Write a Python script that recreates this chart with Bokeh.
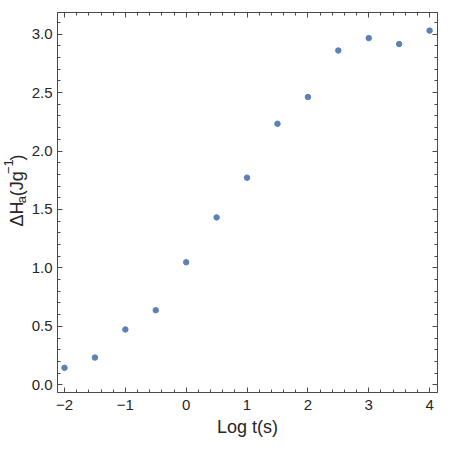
import math
from bokeh.plotting import figure
from bokeh.layouts import row
from bokeh.models import (Range1d, SingleIntervalTicker, LinearAxis, PrintfTickFormatter,
                          CustomJSTickFormatter, ColumnDataSource)
from bokeh.core.properties import value
from bokeh.embed import file_html
from bokeh.resources import INLINE

# data
log_t = [-2, -1.5, -1, -0.5, 0, 0.5, 1, 1.5, 2, 2.5, 3, 3.5, 4]
delta_h = [0.145, 0.233, 0.473, 0.638, 1.048, 1.432, 1.772, 2.233, 2.462, 2.86, 2.966, 2.915, 3.03]
x_tick_overrides = {-2: "\u22122", -1: "\u22121", 0: "0", 1: "1", 2: "2", 3: "3", 4: "4"}
y_title_parts = ["\u0394H", "a", "(Jg", "\u22121", ")"]

FRAME_COL = "#4a4a4a"
TXT_COL = "#262626"
FONT = "Liberation Sans"

X0, X1 = -2.115, 4.13
Y0, Y1 = -0.066, 3.185
FRAME_W, FRAME_H = 380, 380
LW = 28                      # width of the narrow title strip on the left
BL, BR, BT, BB = 57 - LW, 29, 12, 52
H = BT + FRAME_H + BB

p = figure(width=BL + FRAME_W + BR, height=H,
           output_backend="svg", toolbar_location=None,
           x_range=Range1d(X0, X1), y_range=Range1d(Y0, Y1),
           min_border_left=BL, min_border_right=BR, min_border_top=BT, min_border_bottom=BB,
           x_axis_location=None, y_axis_location=None)
p.grid.visible = False
p.outline_line_color = FRAME_COL
p.background_fill_color = "white"
p.border_fill_color = "white"

def style_axis(ax, ticker, labels=True):
    ax.ticker = ticker
    ax.axis_line_color = FRAME_COL
    ax.major_tick_line_color = FRAME_COL
    ax.minor_tick_line_color = FRAME_COL
    ax.major_tick_in = 5
    ax.major_tick_out = 0
    ax.minor_tick_in = 3
    ax.minor_tick_out = 0
    if labels:
        ax.major_label_text_font = FONT
        ax.major_label_text_font_size = "15px"
        ax.major_label_text_color = TXT_COL
    else:
        ax.formatter = CustomJSTickFormatter(code="return ''")
        ax.major_label_text_font_size = "1px"
        ax.major_label_standoff = 0

xb = LinearAxis()
style_axis(xb, SingleIntervalTicker(interval=1, num_minor_ticks=5))
xb.major_label_overrides = x_tick_overrides
xb.major_label_standoff = 7
xb.axis_label = "Log t(s)"
xb.axis_label_text_font = FONT
xb.axis_label_text_font_size = "18px"
xb.axis_label_text_font_style = "normal"
xb.axis_label_text_color = TXT_COL
xb.axis_label_standoff = 4
p.add_layout(xb, "below")

xt = LinearAxis()
style_axis(xt, SingleIntervalTicker(interval=1, num_minor_ticks=5), labels=False)
p.add_layout(xt, "above")

yl = LinearAxis()
style_axis(yl, SingleIntervalTicker(interval=0.5, num_minor_ticks=5))
yl.formatter = PrintfTickFormatter(format="%.1f")
yl.major_label_standoff = 5
p.add_layout(yl, "left")

yr = LinearAxis()
style_axis(yr, SingleIntervalTicker(interval=0.5, num_minor_ticks=5), labels=False)
p.add_layout(yr, "right")

p.scatter(log_t, delta_h, size=5.5, color="#5E81B5", line_color="#5E81B5")

# narrow strip holding the rotated y-axis title (pixel coordinates, y downward)
t = figure(width=LW, height=H, output_backend="svg", toolbar_location=None,
           x_range=Range1d(0, LW), y_range=Range1d(H, 0),
           min_border_left=0, min_border_right=0, min_border_top=0, min_border_bottom=0,
           x_axis_location=None, y_axis_location=None)
t.grid.visible = False
t.outline_line_color = None
t.background_fill_color = "white"
t.border_fill_color = "white"

sizes = [18, 13, 18, 13, 18]
shifts = [0, 5, 0, -8, 0]
em_w = [0.667 + 0.722, 0.556, 0.333 + 0.5 + 0.556, 0.584 + 0.556, 0.333]
gaps = [0, 2, 1, 1, 1]
base_x = 16
cur = 250
for txt, fs, sh, w, g in zip(y_title_parts, sizes, shifts, em_w, gaps):
    cur -= g
    src = ColumnDataSource(dict(x=[base_x + sh], y=[cur], text=[txt]))
    t.text(x="x", y="y", text="text", source=src, angle=math.pi / 2,
           text_align="left", text_baseline="alphabetic",
           text_font=value(FONT), text_font_size=f"{fs}px", text_color=TXT_COL)
    cur -= fs * w

layout = row(t, p, spacing=0)
open("out.html", "w").write(file_html(layout, INLINE))
